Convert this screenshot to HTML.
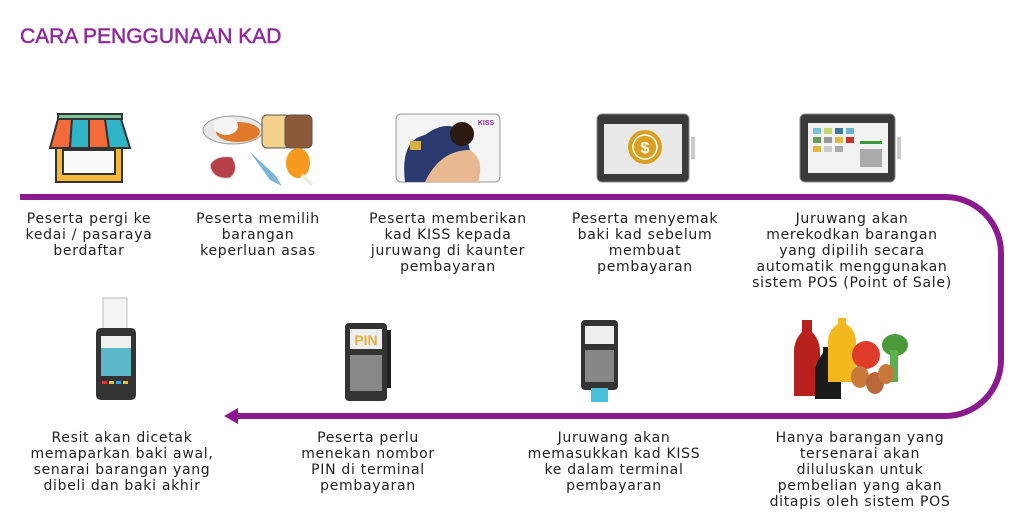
<!DOCTYPE html>
<html><head><meta charset="utf-8"><style>
html,body{margin:0;padding:0;background:#fff;}
svg{display:block}
.t{font-family:"DejaVu Sans","Liberation Sans",sans-serif;font-size:14px;fill:#222;text-anchor:middle;letter-spacing:0.7px}
</style></head><body>
<svg width="1024" height="528" viewBox="0 0 1024 528" xmlns="http://www.w3.org/2000/svg">
<rect width="1024" height="528" fill="#fff"/>
<text x="20" y="43" font-family="Liberation Sans, sans-serif" font-size="21" fill="#8e2a9a" stroke="#8e2a9a" stroke-width="0.5">CARA PENGGUNAAN KAD</text>

<path d="M20 197 H945 A56 56 0 0 1 1001 253 V360 A56 56 0 0 1 945 416 H236" fill="none" stroke="#8b1a8f" stroke-width="6"/>
<polygon points="224,416 238,408 238,424" fill="#8b1a8f"/>

<g stroke="#333" stroke-width="2">
<rect x="58" y="114" width="64" height="5" fill="#7cc49a"/>
<rect x="56" y="140" width="66" height="42" fill="#f5b935"/>
<rect x="63" y="150" width="52" height="24" fill="#fafafa"/>
<polygon points="58,119 72,119 70,148 50,148" fill="#f26a3a"/>
<polygon points="72,119 89,119 89,148 70,148" fill="#2fb5c6"/>
<polygon points="89,119 105,119 109,148 89,148" fill="#f26a3a"/>
<polygon points="105,119 121,119 130,148 109,148" fill="#2fb5c6"/>
</g>
<ellipse cx="233" cy="130" rx="30" ry="14" fill="#e8e8e8" stroke="#999"/>
<ellipse cx="238" cy="132" rx="22" ry="10" fill="#e07a2a"/>
<ellipse cx="226" cy="126" rx="12" ry="9" fill="#f5f5f5"/>
<rect x="262" y="115" width="28" height="33" rx="5" fill="#f3d18c" stroke="#555"/>
<rect x="285" y="115" width="27" height="33" rx="5" fill="#8a5a3a" stroke="#555"/>
<path d="M210 165 Q215 155 232 157 Q240 170 230 178 Q212 180 210 165Z" fill="#b5404a" stroke="#ddd"/>
<path d="M250 152 L275 175 L282 186 L270 180 Z" fill="#7ab4d8"/>
<ellipse cx="298" cy="163" rx="12" ry="15" fill="#f59a1e"/>
<line x1="302" y1="175" x2="312" y2="185" stroke="#eed" stroke-width="4"/>
<rect x="396" y="114" width="104" height="68" rx="5" fill="#f4f4f4" stroke="#999"/>
<path d="M405 182 Q400 140 425 135 Q445 120 460 130 Q475 145 470 182Z" fill="#2a3a6e"/>
<path d="M425 182 Q440 150 470 150 Q485 160 478 182Z" fill="#e8b890"/>
<circle cx="462" cy="134" r="12" fill="#2a1a10"/>
<rect x="410" y="141" width="11" height="9" fill="#d8b040"/>
<text x="486" y="125" font-family="Liberation Sans,sans-serif" font-size="7" font-weight="bold" fill="#8e2a9a" text-anchor="middle">KISS</text>
<rect x="597" y="114" width="92" height="68" rx="5" fill="#3a3a3a" stroke="#888"/>
<rect x="604" y="124" width="78" height="50" fill="#e8e8e8"/>
<rect x="691" y="137" width="4" height="22" fill="#ccc"/>
<circle cx="645" cy="147" r="17" fill="#d9a021"/>
<circle cx="645" cy="147" r="12" fill="none" stroke="#fff" stroke-width="1.5"/>
<text x="645" y="153" font-family="Liberation Sans,sans-serif" font-size="16" font-weight="bold" fill="#fff" text-anchor="middle">$</text>
<rect x="800" y="114" width="95" height="68" rx="5" fill="#3a3a3a" stroke="#888"/>
<rect x="808" y="123" width="80" height="50" fill="#f2f2f2"/>
<rect x="897" y="137" width="4" height="22" fill="#ccc"/>
<g><rect x="813" y="128" width="8" height="6" fill="#7cc0d8"/><rect x="824" y="128" width="8" height="6" fill="#c9d46a"/><rect x="835" y="128" width="8" height="6" fill="#3a7a9a"/><rect x="846" y="128" width="8" height="6" fill="#6ab0d0"/>
<rect x="813" y="137" width="8" height="6" fill="#6a9a5a"/><rect x="824" y="137" width="8" height="6" fill="#999"/><rect x="835" y="137" width="8" height="6" fill="#e0b840"/><rect x="846" y="137" width="8" height="6" fill="#c83030"/>
<rect x="813" y="146" width="8" height="6" fill="#e0b840"/><rect x="824" y="146" width="8" height="6" fill="#ccc"/><rect x="835" y="146" width="8" height="6" fill="#aaa"/>
<rect x="860" y="141" width="22" height="3" fill="#3a9a3a"/><rect x="860" y="149" width="22" height="18" fill="#aaa"/></g>

<rect x="103" y="298" width="24" height="32" fill="#f4f4f4" stroke="#bbb"/>
<rect x="96" y="328" width="40" height="72" rx="5" fill="#333"/>
<rect x="101" y="336" width="30" height="40" fill="#5ab8c8"/>
<rect x="101" y="336" width="30" height="12" fill="#f0f0f0"/>
<rect x="102" y="381" width="5" height="3" fill="#e33"/><rect x="109" y="381" width="5" height="3" fill="#eb3"/><rect x="116" y="381" width="5" height="3" fill="#3ae"/><rect x="123" y="381" width="5" height="3" fill="#eb3"/>
<rect x="345" y="323" width="42" height="78" rx="4" fill="#333"/>
<rect x="387" y="330" width="4" height="58" fill="#222"/>
<rect x="350" y="329" width="32" height="20" fill="#eee"/>
<text x="366" y="345" font-family="Liberation Sans,sans-serif" font-size="14" font-weight="bold" fill="#e6b040" text-anchor="middle">PIN</text>
<rect x="350" y="355" width="32" height="36" fill="#ddd" opacity="0.5"/>
<rect x="581" y="320" width="37" height="70" rx="4" fill="#333"/>
<rect x="585" y="326" width="29" height="18" fill="#eee"/>
<rect x="585" y="350" width="29" height="32" fill="#ccc" opacity="0.55"/>
<rect x="591" y="388" width="17" height="14" fill="#49c0d8"/>
<path d="M802 320 h10 v12 q8 8 8 20 v44 h-26 v-44 q0-12 8-20z" fill="#b8201e"/>
<path d="M823 347 h10 v6 q8 10 8 20 v26 h-26 v-26 q0-10 8-20z" fill="#1a1a1a"/>
<path d="M838 318 h8 v6 q10 6 10 18 v40 h-28 v-40 q0-12 10-18z" fill="#f3b81e"/>
<circle cx="866" cy="355" r="14" fill="#e03a2a"/>
<ellipse cx="895" cy="345" rx="13" ry="11" fill="#4a9a3a"/>
<rect x="890" y="350" width="8" height="32" fill="#5ab04a"/>
<ellipse cx="860" cy="377" rx="9" ry="11" fill="#c8783a"/>
<ellipse cx="875" cy="383" rx="9" ry="11" fill="#b8683a"/>
<ellipse cx="886" cy="374" rx="8" ry="10" fill="#c8783a"/>

<text class="t" x="89" y="223">Peserta pergi ke<tspan x="89" dy="16">kedai / pasaraya</tspan><tspan x="89" dy="16">berdaftar</tspan></text>
<text class="t" x="258" y="223">Peserta memilih<tspan x="258" dy="16">barangan</tspan><tspan x="258" dy="16">keperluan asas</tspan></text>
<text class="t" x="448" y="223">Peserta memberikan<tspan x="448" dy="16">kad KISS kepada</tspan><tspan x="448" dy="16">juruwang di kaunter</tspan><tspan x="448" dy="16">pembayaran</tspan></text>
<text class="t" x="645" y="223">Peserta menyemak<tspan x="645" dy="16">baki kad sebelum</tspan><tspan x="645" dy="16">membuat</tspan><tspan x="645" dy="16">pembayaran</tspan></text>
<text class="t" x="852" y="223">Juruwang akan<tspan x="852" dy="16">merekodkan barangan</tspan><tspan x="852" dy="16">yang dipilih secara</tspan><tspan x="852" dy="16">automatik menggunakan</tspan><tspan x="852" dy="16">sistem POS (Point of Sale)</tspan></text>

<text class="t" x="122" y="442">Resit akan dicetak<tspan x="122" dy="16">memaparkan baki awal,</tspan><tspan x="122" dy="16">senarai barangan yang</tspan><tspan x="122" dy="16">dibeli dan baki akhir</tspan></text>
<text class="t" x="368" y="442">Peserta perlu<tspan x="368" dy="16">menekan nombor</tspan><tspan x="368" dy="16">PIN di terminal</tspan><tspan x="368" dy="16">pembayaran</tspan></text>
<text class="t" x="614" y="442">Juruwang akan<tspan x="614" dy="16">memasukkan kad KISS</tspan><tspan x="614" dy="16">ke dalam terminal</tspan><tspan x="614" dy="16">pembayaran</tspan></text>
<text class="t" x="860" y="442">Hanya barangan yang<tspan x="860" dy="16">tersenarai akan</tspan><tspan x="860" dy="16">diluluskan untuk</tspan><tspan x="860" dy="16">pembelian yang akan</tspan><tspan x="860" dy="16">ditapis oleh sistem POS</tspan></text>
</svg>
</body></html>
